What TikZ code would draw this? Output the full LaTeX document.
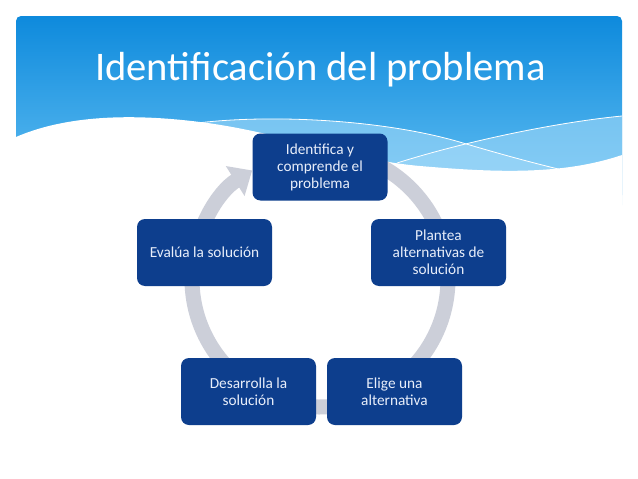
\documentclass[tikz,border=0pt]{standalone}
\usepackage{fontspec}
\setmainfont{Carlito}
\usetikzlibrary{arrows.meta}
\definecolor{nodeblue}{RGB}{13,62,141}
\definecolor{ringgray}{RGB}{204,207,217}
\definecolor{hdrtop}{RGB}{14,138,220}
\definecolor{hdrbot}{RGB}{100,192,243}
\definecolor{bandblue}{RGB}{160,216,248}
\definecolor{nodetext}{RGB}{232,238,250}
\begin{document}
\begin{tikzpicture}[x=1pt,y=-1pt,
  stepbox/.style={fill=nodeblue, rounded corners=8pt, minimum width=135pt, minimum height=67pt,
    text=nodetext, align=center, font=\fontsize{15.3}{17}\selectfont, inner sep=2pt},
  ring/.style={draw=ringgray, line width=15pt, -{Triangle[width=34pt,length=20pt]}},
  band/.style={fill=bandblue, fill opacity=0.6},
  wline/.style={draw=white, line width=0.8pt}
  ]
\useasboundingbox (0,0) rectangle (638,479);
\fill[white] (0,0) rectangle (638,479);
% header
\shade[top color=hdrtop, bottom color=hdrbot, rounded corners=5pt] (16,16) rectangle (622,200);
% light bands
\path[band] (190,124) .. controls (260,114) and (380,118) .. (463,143) .. controls (510,157) and (545,166) .. (575,173) -- (575,205) -- (190,205) -- cycle;
\path[band] (397,163) .. controls (470,140) and (560,122) .. (622,116) -- (622,205) -- (397,205) -- cycle;
% white wave
\fill[white] (16,137) .. controls (60,118) and (120,112) .. (200,122) .. controls (280,132) and (350,160) .. (420,166) .. controls (490,172) and (560,176) .. (622,155) -- (622,210) -- (16,210) -- cycle;
% thin white lines
\draw[wline] (190,124) .. controls (260,114) and (380,118) .. (463,143) .. controls (510,157) and (545,166) .. (575,173);
\draw[wline] (397,163) .. controls (470,140) and (560,122) .. (622,116);
% title
\node[anchor=base west, text=white, font=\fontsize{40.6}{48}\selectfont, inner sep=0pt] (title) at (95,80) {Identificación del problema};
% ring
\coordinate (C) at (320,279);
\draw[ring] (C) ++(-85:128) arc[start angle=-85, end angle=238, radius=128];
% steps
\node[stepbox] (n1) at (320,167) {Identifica y\\comprende el\\problema};
\node[stepbox] (n2) at (438.5,252.5) {Plantea\\alternativas de\\solución};
\node[stepbox] (n3) at (394.5,391.5) {Elige una\\alternativa};
\node[stepbox] (n4) at (248.5,391.5) {Desarrolla la\\solución};
\node[stepbox] (n5) at (204.5,252.5) {Evalúa la solución};
\end{tikzpicture}
\end{document}
